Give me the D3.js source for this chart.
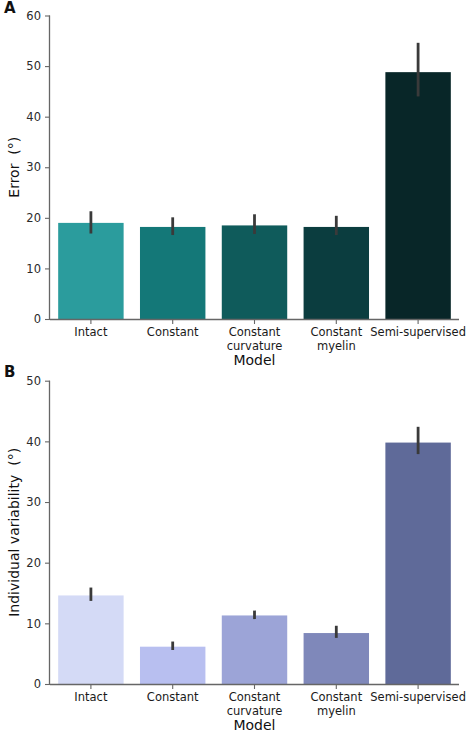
<!DOCTYPE html>
<html><head><meta charset="utf-8">
<script src="https://cdn.jsdelivr.net/npm/d3@7"></script>
<style>body{margin:0;background:#fff}svg{display:block}text{font-family:"DejaVu Sans",sans-serif}</style>
</head><body><svg id="c" width="474" height="740"></svg>
<script>
const models = ["Intact","Constant","Constant\ncurvature","Constant\nmyelin","Semi-supervised"];
const errorMean = [19.0, 18.2, 18.5, 18.2, 48.8];
const errorLow  = [16.9, 16.6, 16.8, 16.6, 44.0];
const errorHigh = [21.3, 20.1, 20.7, 20.4, 54.6];
const errorTicks = [0,10,20,30,40,50,60];
const varMean = [14.6, 6.15, 11.3, 8.4, 39.8];
const varLow  = [13.7, 5.6, 10.7, 7.6, 37.9];
const varHigh = [15.9, 7.0, 12.1, 9.6, 42.4];
const varTicks = [0,10,20,30,40,50];
const errorColors = ["#2b9c9d","#147878","#0f5b5b","#0b3d3f","#082628"];
const varColors = ["#d4daf6","#b8bff0","#9ca4d7","#7f88ba","#5f6a99"];

const svg = d3.select("#c");
const axisColor = "#666";

function panel(cfg){
  const g = svg.append("g");
  const x = d3.scaleBand().domain(models).range([50,459]).paddingInner(0.2).paddingOuter(0.1);
  const y = d3.scaleLinear().domain([0,cfg.max]).range([cfg.bottom,cfg.top]);
  g.selectAll("rect.bar").data(models).join("rect")
    .attr("x",d=>x(d)).attr("width",x.bandwidth())
    .attr("y",(d,i)=>y(cfg.mean[i])).attr("height",(d,i)=>y(0)-y(cfg.mean[i]))
    .attr("fill",(d,i)=>cfg.colors[i]);
  g.selectAll("line.err").data(models).join("line")
    .attr("x1",d=>x(d)+x.bandwidth()/2).attr("x2",d=>x(d)+x.bandwidth()/2)
    .attr("y1",(d,i)=>y(cfg.low[i])).attr("y2",(d,i)=>y(cfg.high[i]))
    .attr("stroke","#3a3a3a").attr("stroke-width",2.8);
  const ya = g.append("g").attr("transform","translate(50,0)")
    .call(d3.axisLeft(y).tickValues(cfg.ticks).tickSize(5).tickPadding(4));
  const xa = g.append("g").attr("transform",`translate(0,${cfg.bottom})`)
    .call(d3.axisBottom(x).tickSize(5).tickPadding(3).tickFormat(""));
  [ya,xa].forEach(a=>{
    a.select(".domain").attr("stroke",axisColor).attr("stroke-width",1.3);
    a.selectAll(".tick line").attr("stroke",axisColor).attr("stroke-width",1.1);
  });
  ya.select(".domain").attr("d",`M-0.5,${cfg.top}V${cfg.bottom}`);
  xa.select(".domain").attr("d",`M50,0.5H459`);
  ya.selectAll(".tick text").attr("font-size",11.5).attr("fill","#2a2a2a").attr("font-family","DejaVu Sans");
  xa.selectAll(".tick").each(function(d){
    const t = d3.select(this).append("text").attr("fill","#1a1a1a").attr("font-size",11.5)
      .attr("text-anchor","middle").attr("font-family","DejaVu Sans");
    d.split("\n").forEach((s,k)=>t.append("tspan").attr("x",0).attr("y",17+k*14).text(s));
  });
  g.append("text").attr("x",254.5).attr("y",cfg.bottom+46).attr("text-anchor","middle")
    .attr("font-size",14).attr("fill","#111").text("Model");
  g.append("text").attr("transform",`translate(19,${(cfg.top+cfg.bottom)/2}) rotate(-90)`)
    .attr("text-anchor","middle").attr("font-size",14).attr("fill","#111").text(cfg.ylabel);
  g.append("text").attr("x",4).attr("y",cfg.letterY).attr("font-size",15).attr("font-weight","bold")
    .attr("fill","#111").text(cfg.letter);
}

panel({top:15.5,bottom:319,max:60,mean:errorMean,low:errorLow,high:errorHigh,ticks:errorTicks,
  colors:errorColors,ylabel:"Error\u00a0 (°)",letter:"A",letterY:13});
panel({top:380.7,bottom:684,max:50,mean:varMean,low:varLow,high:varHigh,ticks:varTicks,
  colors:varColors,ylabel:"Individual variability\u00a0 (°)",letter:"B",letterY:377});
</script></body></html>
